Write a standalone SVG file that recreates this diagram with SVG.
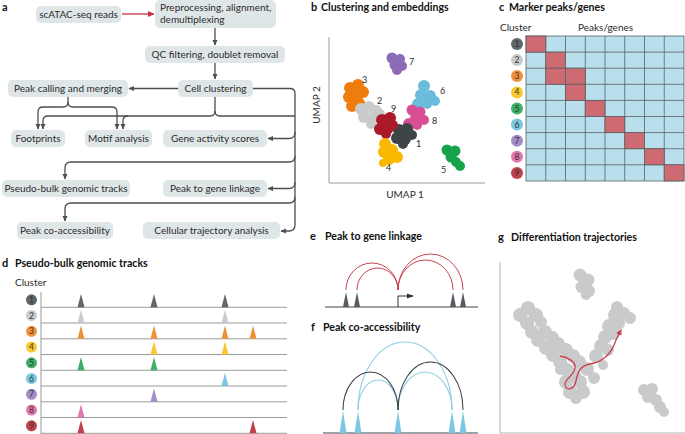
<svg xmlns="http://www.w3.org/2000/svg" width="685" height="434" viewBox="0 0 685 434">
<defs>
<marker id="ah" markerWidth="6" markerHeight="6" refX="5" refY="3" orient="auto" markerUnits="userSpaceOnUse"><path d="M0,0.5 L5.5,3 L0,5.5 z" fill="#4a4f52"/></marker>
<marker id="ahr" markerWidth="7" markerHeight="7" refX="6" refY="3.5" orient="auto" markerUnits="userSpaceOnUse"><path d="M0,0.5 L6.5,3.5 L0,6.5 z" fill="#c8323f"/></marker>
<marker id="ahd" markerWidth="8" markerHeight="6" refX="6" refY="3" orient="auto" markerUnits="userSpaceOnUse"><path d="M0,0.5 L7,3 L0,5.5 z" fill="#333"/></marker>
<marker id="aht" markerWidth="7" markerHeight="7" refX="5" refY="3.5" orient="auto" markerUnits="userSpaceOnUse"><path d="M0,0.5 L6,3.5 L0,6.5 z" fill="#c8424f"/></marker>
</defs>
<style>
text{font-family:Lato,"Open Sans","Liberation Sans",sans-serif;fill:#2b2b2b}
.t{font-size:10px}
.h{font-size:10.6px;font-weight:bold;fill:#111}
.hl{font-size:11px;font-weight:bold;fill:#111}
.box{fill:#dfe6e8}
.c{fill:none;stroke:#4a4f52;stroke-width:1.3}
.num{font-size:8.5px;text-anchor:middle;fill:#333}
.bl{font-size:9px;fill:#333}
.trk{stroke:#9a9a9a;stroke-width:1}
.grid{fill:#b8dfeb;stroke:#5a6064;stroke-width:0.8}
.red{fill:#cd6a72;stroke:#5a6064;stroke-width:0.8}
.arcr{fill:none;stroke:#c8424f;stroke-width:1}
.arcd{fill:none;stroke:#3f4548;stroke-width:1.1}
.arcb{fill:none;stroke:#8fcfe6;stroke-width:1.1}
</style>

<!-- Panel a -->
<text class="hl" x="2" y="11">a</text>
<g id="n-scatac"><rect class="box" x="36" y="6" width="85" height="17" rx="5"/><text class="t" x="78.5" y="18" text-anchor="middle">scATAC-seq reads</text></g>
<g id="n-preproc"><rect class="box" x="155" y="0" width="121" height="28" rx="5"/><text class="t" x="160" y="11">Preprocessing, alignment,</text><text class="t" x="160" y="23">demultiplexing</text></g>
<g id="n-qc"><rect class="box" x="145" y="46" width="140" height="17" rx="5"/><text class="t" x="215" y="58" text-anchor="middle">QC filtering, doublet removal</text></g>
<g id="n-clust"><rect class="box" x="178" y="80" width="75" height="17" rx="5"/><text class="t" x="215.5" y="92" text-anchor="middle">Cell clustering</text></g>
<g id="n-peakcall"><rect class="box" x="8" y="80" width="120" height="17" rx="5"/><text class="t" x="68" y="92" text-anchor="middle">Peak calling and merging</text></g>
<g id="n-foot"><rect class="box" x="11" y="130" width="54" height="17" rx="5"/><text class="t" x="38" y="142" text-anchor="middle">Footprints</text></g>
<g id="n-motif"><rect class="box" x="85" y="130" width="67" height="17" rx="5"/><text class="t" x="118.5" y="142" text-anchor="middle">Motif analysis</text></g>
<g id="n-gene"><rect class="box" x="163" y="130" width="104" height="17" rx="5"/><text class="t" x="215" y="142" text-anchor="middle">Gene activity scores</text></g>
<g id="n-pseudo"><rect class="box" x="2" y="180" width="128" height="17" rx="5"/><text class="t" x="66" y="192" text-anchor="middle">Pseudo-bulk genomic tracks</text></g>
<g id="n-p2g"><rect class="box" x="163" y="180" width="104" height="17" rx="5"/><text class="t" x="215" y="192" text-anchor="middle">Peak to gene linkage</text></g>
<g id="n-coacc"><rect class="box" x="17" y="222" width="96" height="17" rx="5"/><text class="t" x="65" y="234" text-anchor="middle">Peak co-accessibility</text></g>
<g id="n-traj"><rect class="box" x="143" y="222" width="137" height="17" rx="5"/><text class="t" x="211.5" y="234" text-anchor="middle">Cellular trajectory analysis</text></g>

<g id="connectors">
<path d="M122,14 H154" fill="none" stroke="#c8323f" stroke-width="1.3" marker-end="url(#ahr)"/>
<path class="c" d="M215,28 V45" marker-end="url(#ah)"/>
<path class="c" d="M215,63 V79" marker-end="url(#ah)"/>
<path class="c" d="M178,88.5 H129" marker-end="url(#ah)"/>
<path class="c" d="M68,97 V102 Q68,107 63,107 H43 Q38,107 38,112 V129" marker-end="url(#ah)"/>
<path class="c" d="M68,102 Q68,107 73,107 H112 Q117,107 117,112 V129" marker-end="url(#ah)"/>
<path class="c" d="M215,97 V111 Q215,116 210,116 H48 Q43,116 43,121 V129" marker-end="url(#ah)"/>
<path class="c" d="M128,116 Q123,116 123,121 V129" marker-end="url(#ah)"/>
<path class="c" d="M215,111 Q215,116 220,116 H295"/>
<path class="c" d="M253,88.5 H290 Q295,88.5 295,93.5 V225 Q295,231 289,231 H281" marker-end="url(#ah)"/>
<path class="c" d="M295,132 Q295,138.5 289,138.5 H268" marker-end="url(#ah)"/>
<path class="c" d="M295,156 Q295,162 289,162 H71 Q65,162 65,168 V179" marker-end="url(#ah)"/>
<path class="c" d="M295,182 Q295,188.5 289,188.5 H268" marker-end="url(#ah)"/>
<path class="c" d="M295,197 Q295,203 289,203 H71 Q65,203 65,209 V221" marker-end="url(#ah)"/>
</g>

<!-- Panel b -->
<text class="hl" x="311" y="11">b</text><text class="h" x="321" y="11">Clustering and embeddings</text>
<path d="M329,37 V183 H485" fill="none" stroke="#9a9a9a" stroke-width="1"/>
<text class="t" x="405" y="198" text-anchor="middle">UMAP 1</text>
<text class="t" transform="translate(320,105) rotate(-90)" text-anchor="middle">UMAP 2</text>
<g fill="#8b6bb8"><circle cx="392" cy="58" r="5.5"/><circle cx="400" cy="59" r="5"/><circle cx="395" cy="65" r="5.5"/><circle cx="402" cy="66" r="5"/><circle cx="397" cy="70" r="5"/></g>
<g fill="#ee7d0e"><circle cx="350" cy="88" r="6"/><circle cx="358" cy="85" r="6"/><circle cx="363" cy="92" r="6"/><circle cx="349" cy="97" r="6"/><circle cx="357" cy="96" r="6"/><circle cx="352" cy="106" r="6"/><circle cx="360" cy="103" r="5"/></g>
<g fill="#6bbcdc"><circle cx="424" cy="86" r="6"/><circle cx="421" cy="95" r="6"/><circle cx="430" cy="96" r="6"/><circle cx="435" cy="101" r="5"/><circle cx="418" cy="104" r="6"/><circle cx="427" cy="104" r="5"/></g>
<g fill="#c8cacb"><circle cx="361" cy="109" r="6"/><circle cx="369" cy="107" r="6"/><circle cx="376" cy="111" r="6"/><circle cx="364" cy="117" r="6"/><circle cx="372" cy="119" r="6"/><circle cx="380" cy="114" r="5"/><circle cx="371" cy="124" r="5"/></g>
<g fill="#d94f93"><circle cx="412" cy="110" r="5.5"/><circle cx="420" cy="112" r="5.5"/><circle cx="416" cy="118" r="6"/><circle cx="424" cy="120" r="5"/><circle cx="409" cy="124" r="6"/><circle cx="417" cy="125" r="5"/></g>
<g fill="#3d4549"><circle cx="399" cy="130" r="6"/><circle cx="407" cy="129" r="6"/><circle cx="397" cy="138" r="6"/><circle cx="405" cy="139" r="6"/><circle cx="412" cy="135" r="5"/><circle cx="403" cy="144" r="5"/></g>
<g fill="#ac1a2a"><circle cx="382" cy="120" r="6"/><circle cx="390" cy="118" r="6"/><circle cx="380" cy="129" r="6"/><circle cx="388" cy="128" r="6"/><circle cx="393" cy="125" r="5"/><circle cx="386" cy="134" r="5"/></g>
<g fill="#fbb800"><circle cx="385" cy="144" r="6"/><circle cx="384" cy="152" r="6"/><circle cx="392" cy="150" r="6"/><circle cx="397" cy="157" r="6"/><circle cx="389" cy="159" r="6"/><circle cx="383" cy="163" r="4"/></g>
<g fill="#16a34a"><circle cx="447" cy="150" r="5.5"/><circle cx="455" cy="151" r="5.5"/><circle cx="451" cy="157" r="5.5"/><circle cx="456" cy="162" r="5"/><circle cx="460" cy="166" r="5"/></g>
<g class="bl"><text x="409" y="65">7</text><text x="362" y="83">3</text><text x="440" y="94">6</text><text x="377" y="104">2</text><text x="391" y="112">9</text><text x="432" y="124">8</text><text x="416" y="147">1</text><text x="386" y="171">4</text><text x="441" y="173">5</text></g>

<!-- Panel c -->
<text class="hl" x="499" y="11">c</text><text class="h" x="509" y="11">Marker peaks/genes</text>
<text class="t" x="500" y="31">Cluster</text><text class="t" x="578" y="31">Peaks/genes</text>
<g id="grid">
<rect class="grid" x="526" y="36" width="158" height="145"/>
<path d="M545.75,36 V181 M565.5,36 V181 M585.25,36 V181 M605,36 V181 M624.75,36 V181 M644.5,36 V181 M664.25,36 V181 M526,52.1 H684 M526,68.2 H684 M526,84.3 H684 M526,100.4 H684 M526,116.5 H684 M526,132.6 H684 M526,148.7 H684 M526,164.8 H684" stroke="#5a6064" stroke-width="0.8"/>
<rect class="red" x="526" y="36" width="19.75" height="16.1"/>
<rect class="red" x="545.75" y="52.1" width="19.75" height="16.1"/>
<rect class="red" x="545.75" y="68.2" width="19.75" height="16.1"/>
<rect class="red" x="565.5" y="68.2" width="19.75" height="16.1"/>
<rect class="red" x="565.5" y="84.3" width="19.75" height="16.1"/>
<rect class="red" x="585.25" y="100.4" width="19.75" height="16.1"/>
<rect class="red" x="605" y="116.5" width="19.75" height="16.1"/>
<rect class="red" x="624.75" y="132.6" width="19.75" height="16.1"/>
<rect class="red" x="644.5" y="148.7" width="19.75" height="16.1"/>
<rect class="red" x="664.25" y="164.8" width="19.75" height="16.1"/>
</g>
<g id="c-clusters">
<circle cx="517" cy="44" r="6" fill="#5f6568"/><text class="num" x="517" y="47">1</text>
<circle cx="517" cy="60" r="6" fill="#c8cacb"/><text class="num" x="517" y="63">2</text>
<circle cx="517" cy="76" r="6" fill="#f0913a"/><text class="num" x="517" y="79">3</text>
<circle cx="517" cy="92.4" r="6" fill="#f9c932"/><text class="num" x="517" y="95.4">4</text>
<circle cx="517" cy="108.5" r="6" fill="#3fae66"/><text class="num" x="517" y="111.5">5</text>
<circle cx="517" cy="124.6" r="6" fill="#7dc6e0"/><text class="num" x="517" y="127.6">6</text>
<circle cx="517" cy="140.7" r="6" fill="#a48cc8"/><text class="num" x="517" y="143.7">7</text>
<circle cx="517" cy="156.8" r="6" fill="#e277ae"/><text class="num" x="517" y="159.8">8</text>
<circle cx="517" cy="172.9" r="6" fill="#c0414c"/><text class="num" x="517" y="175.9">9</text>
</g>

<!-- Panel d -->
<text class="hl" x="2" y="267">d</text><text class="h" x="15" y="267">Pseudo-bulk genomic tracks</text>
<text class="t" x="15" y="286">Cluster</text>
<path d="M41,292 V434" stroke="#9a9a9a" stroke-width="1"/>
<g id="d-tracks">
<path class="trk" d="M41,307.3 H287 M41,323 H287 M41,338.8 H287 M41,354.5 H287 M41,370.3 H287 M41,386 H287 M41,401.8 H287 M41,417.5 H287 M41,433.3 H287"/>
<circle cx="31.5" cy="299.8" r="5.5" fill="#5f6568"/><text class="num" x="31.5" y="302.8">1</text>
<circle cx="31.5" cy="315.5" r="5.5" fill="#c8cacb"/><text class="num" x="31.5" y="318.5">2</text>
<circle cx="31.5" cy="331.3" r="5.5" fill="#f0913a"/><text class="num" x="31.5" y="334.3">3</text>
<circle cx="31.5" cy="347" r="5.5" fill="#f9c932"/><text class="num" x="31.5" y="350">4</text>
<circle cx="31.5" cy="362.8" r="5.5" fill="#3fae66"/><text class="num" x="31.5" y="365.8">5</text>
<circle cx="31.5" cy="378.5" r="5.5" fill="#7dc6e0"/><text class="num" x="31.5" y="381.5">6</text>
<circle cx="31.5" cy="394.3" r="5.5" fill="#a48cc8"/><text class="num" x="31.5" y="397.3">7</text>
<circle cx="31.5" cy="410" r="5.5" fill="#e277ae"/><text class="num" x="31.5" y="413">8</text>
<circle cx="31.5" cy="425.8" r="5.5" fill="#c0414c"/><text class="num" x="31.5" y="428.8">9</text>
<g fill="#5f6568"><path d="M77.5,307.3 L81,294 L84.5,307.3z M150.5,307.3 L154,294 L157.5,307.3z M221.5,307.3 L225,294 L228.5,307.3z"/></g>
<g fill="#c8cacb"><path d="M77.5,323 L81,309.7 L84.5,323z M221.5,323 L225,309.7 L228.5,323z"/></g>
<g fill="#f0913a"><path d="M77.5,338.8 L81,325.5 L84.5,338.8z M150.5,338.8 L154,325.5 L157.5,338.8z M221.5,338.8 L225,325.5 L228.5,338.8z M249.5,338.8 L253,325.5 L256.5,338.8z"/></g>
<g fill="#f9c932"><path d="M150.5,354.5 L154,341.2 L157.5,354.5z M221.5,354.5 L225,341.2 L228.5,354.5z"/></g>
<g fill="#3fae66"><path d="M77.5,370.3 L81,357 L84.5,370.3z M150.5,370.3 L154,357 L157.5,370.3z"/></g>
<g fill="#7dc6e0"><path d="M221.5,386 L225,372.7 L228.5,386z"/></g>
<g fill="#a48cc8"><path d="M150.5,401.8 L154,388.5 L157.5,401.8z"/></g>
<g fill="#e277ae"><path d="M77.5,417.5 L81,404.2 L84.5,417.5z"/></g>
<g fill="#c0414c"><path d="M77.5,433.3 L81,420 L84.5,433.3z M249.5,433.3 L253,420 L256.5,433.3z"/></g>
</g>

<!-- Panel e -->
<text class="hl" x="310" y="240">e</text><text class="h" x="325" y="240">Peak to gene linkage</text>
<g id="e-link">
<path d="M346,290 A26,27 0 0 1 398,290" class="arcr"/>
<path d="M357,290 A20.5,22 0 0 1 398,290" class="arcr"/>
<path d="M398,290 A32.5,36 0 0 1 463,290" class="arcr"/>
<path d="M398,290 A27.5,30 0 0 1 453,290" class="arcr"/>
<path d="M325,307 H478" stroke="#3f4548" stroke-width="1"/>
<g fill="#555b5f"><path d="M343,307 L346,292 L349,307z M354,307 L357,292 L360,307z M450,307 L453,292 L456,307z M460,307 L463,292 L466,307z"/></g>
<path d="M398,307 V296 H413" fill="none" stroke="#333" stroke-width="1" marker-end="url(#ahd)"/>
</g>

<!-- Panel f -->
<text class="hl" x="311" y="331">f</text><text class="h" x="323" y="331">Peak co-accessibility</text>
<g id="f-coacc">
<path d="M358,410 A47,68 0 0 1 452,410" class="arcb"/>
<path d="M358,410 A20,30 0 0 1 398,410" class="arcb"/>
<path d="M398,410 A27,38 0 0 1 452,410" class="arcb"/>
<path d="M343,410 A27.5,38 0 0 1 398,410" class="arcd"/>
<path d="M398,410 A32.5,48 0 0 1 463,410" class="arcd"/>
<path d="M323,433 H478" stroke="#3f4548" stroke-width="1"/>
<g fill="#7cc8e4"><path d="M339.5,433 L343,411 L346.5,433z M354.5,433 L358,411 L361.5,433z M394.5,433 L398,411 L401.5,433z M448.5,433 L452,411 L455.5,433z M459.5,433 L463,411 L466.5,433z"/></g>
</g>

<!-- Panel g -->
<text class="hl" x="498" y="241">g</text><text class="h" x="511" y="241">Differentiation trajectories</text>
<path d="M500,262 V433 H685" fill="none" stroke="#b5b5b5" stroke-width="1"/>
<g id="g-cells" fill="#c8cacb">
<circle cx="580" cy="275" r="6.5"/><circle cx="588" cy="280" r="6.5"/><circle cx="582" cy="287" r="6.5"/><circle cx="589" cy="291" r="6"/><circle cx="586" cy="295" r="5"/>
<circle cx="528" cy="308" r="7"/><circle cx="520" cy="315" r="7"/><circle cx="536" cy="315" r="7"/><circle cx="527" cy="323" r="7"/><circle cx="541" cy="322" r="6"/><circle cx="532" cy="332" r="7"/><circle cx="545" cy="332" r="7"/><circle cx="538" cy="340" r="7"/><circle cx="552" cy="338" r="7"/><circle cx="546" cy="348" r="7"/><circle cx="558" cy="344" r="7"/><circle cx="553" cy="355" r="7"/><circle cx="566" cy="350" r="7"/><circle cx="560" cy="362" r="7"/><circle cx="573" cy="356" r="7"/><circle cx="567" cy="370" r="7"/><circle cx="579" cy="362" r="7"/><circle cx="574" cy="375" r="7"/><circle cx="587" cy="369" r="7"/><circle cx="566" cy="382" r="7"/><circle cx="580" cy="382" r="7"/><circle cx="594" cy="378" r="6"/><circle cx="570" cy="392" r="7"/><circle cx="583" cy="392" r="7"/><circle cx="576" cy="398" r="6"/><circle cx="560" cy="370" r="5"/>
<circle cx="596" cy="356" r="7"/><circle cx="601" cy="346" r="7"/><circle cx="608" cy="350" r="6"/><circle cx="605" cy="337" r="7"/><circle cx="613" cy="333" r="7"/><circle cx="609" cy="326" r="7"/><circle cx="618" cy="323" r="7"/><circle cx="615" cy="315" r="7"/><circle cx="624" cy="313" r="6"/><circle cx="617" cy="307" r="6"/><circle cx="630" cy="318" r="6"/><circle cx="603" cy="365" r="5"/>
<circle cx="644" cy="390" r="6"/><circle cx="652" cy="389" r="6"/><circle cx="648" cy="397" r="6"/><circle cx="656" cy="400" r="6"/><circle cx="660" cy="407" r="6"/><circle cx="664" cy="412" r="5"/>
</g>
<path d="M560,356 C568,357 576,362 575,368 C574,376 564,379 565,385 C566,391 574,390 576,381 C578,371 580,366 590,364 C604,362 612,352 616,340 L621,330" fill="none" stroke="#c8424f" stroke-width="1.3" marker-end="url(#aht)"/>
</svg>
